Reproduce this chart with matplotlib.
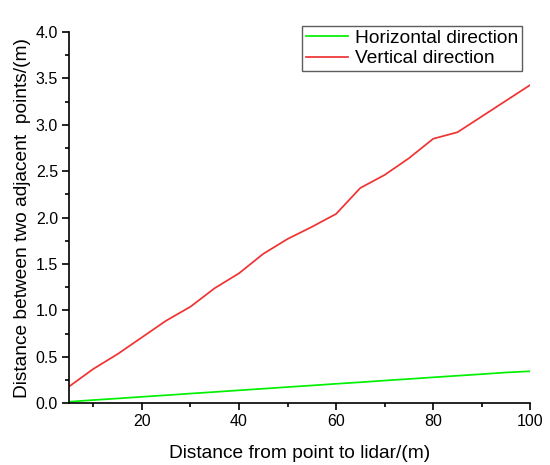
import numpy as np
import matplotlib
matplotlib.use("Agg")
import matplotlib.pyplot as plt
from matplotlib.ticker import MultipleLocator

plt.rcParams['font.family'] = ['Liberation Sans', 'DejaVu Sans']

# distance from point to lidar (m)
dist = [5, 10, 15, 20, 25, 30, 35, 40, 45, 50,
        55, 60, 65, 70, 75, 80, 85, 90, 95, 100]
# spacing between two adjacent points (m)
horizontal = [0.017, 0.035, 0.052, 0.070, 0.087, 0.105, 0.122, 0.140, 0.157, 0.175,
              0.192, 0.210, 0.227, 0.245, 0.262, 0.280, 0.297, 0.314, 0.332, 0.345]
vertical = [0.18, 0.37, 0.53, 0.71, 0.89, 1.04, 1.24, 1.40, 1.61, 1.77,
            1.90, 2.04, 2.32, 2.46, 2.64, 2.85, 2.92, 3.09, 3.26, 3.43]

W, H = 550, 465
fig = plt.figure(figsize=(W / 100, H / 100), dpi=100)
ax = fig.add_axes([69 / W, 1 - 403.3 / H, (530.3 - 69) / W, (403.3 - 32) / H])

ax.plot(dist, horizontal, color='#00F000', lw=1.25, label='Horizontal direction')
ax.plot(dist, vertical, color='#F03232', lw=1.25, label='Vertical direction')

ax.set_xlim(5, 100)
ax.set_ylim(0, 4.0)
ax.xaxis.set_major_locator(MultipleLocator(20))
ax.xaxis.set_minor_locator(MultipleLocator(10))
ax.yaxis.set_major_locator(MultipleLocator(0.5))
ax.yaxis.set_minor_locator(MultipleLocator(0.25))
ax.yaxis.set_major_formatter(matplotlib.ticker.FormatStrFormatter('%.1f'))

for s in ['top', 'right']:
    ax.spines[s].set_visible(False)
for s in ['left', 'bottom']:
    ax.spines[s].set_linewidth(1.2)
ax.tick_params(which='major', direction='out', length=5, width=1.2, labelsize=11.5, pad=3)
ax.tick_params(which='minor', direction='out', length=3, width=1.2)

ax.set_xlabel('Distance from point to lidar/(m)', fontsize=13.8, labelpad=11)
ax.set_ylabel('Distance between two adjacent  points/(m)', fontsize=13.8, labelpad=3)

leg = fig.legend(loc='upper right', bbox_to_anchor=(521.7 / W, 1 - 25.7 / H),
                 fontsize=13.8, frameon=True, fancybox=False, handlelength=2.2,
                 handletextpad=0.35, borderpad=0.2, labelspacing=0.15,
                 borderaxespad=0)
leg.get_frame().set_edgecolor('#333333')
leg.get_frame().set_linewidth(1.0)

fig.savefig('out.png', dpi=100)
